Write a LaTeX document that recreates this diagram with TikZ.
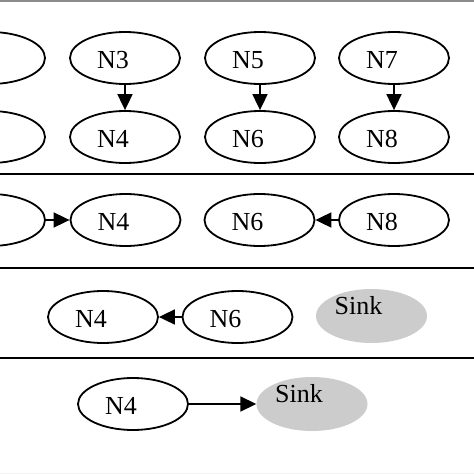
\documentclass[tikz,border=0pt]{standalone}
\usepackage{fontspec}
\setmainfont{Liberation Serif}
\usetikzlibrary{shapes.geometric,arrows.meta}

\tikzset{
  sensor/.style={ellipse, draw=black, line width=1.8pt, minimum width=110pt, minimum height=52pt, inner sep=0pt},
  sink/.style={ellipse, fill=black!20, minimum width=111pt, minimum height=54pt, inner sep=0pt},
  txt/.style={font=\fontsize{26}{30}\selectfont, xshift=-12pt, yshift=-2pt},
  sinktxt/.style={font=\fontsize{26}{30}\selectfont, xshift=-13pt, yshift=10pt},
  arr/.style={line width=1.8pt, -{Triangle[length=16pt,width=15pt]}},
  sep/.style={line width=2pt}
}

\begin{document}
\begin{tikzpicture}[x=1pt,y=-1pt]

\clip (0,0) rectangle (474,474);
\fill[white] (0,0) rectangle (474,474);

% round 1
\node[sensor] (a1) at (-10,58) {};
\node[sensor,label={[txt]center:N3}] (a3) at (125,58) {};
\node[sensor,label={[txt]center:N5}] (a5) at (260,58) {};
\node[sensor,label={[txt]center:N7}] (a7) at (394,58) {};
\node[sensor] (a2) at (-10,137) {};
\node[sensor,label={[txt]center:N4}] (a4) at (125,137) {};
\node[sensor,label={[txt]center:N6}] (a6) at (260,137) {};
\node[sensor,label={[txt]center:N8}] (a8) at (394,137) {};

\draw[arr] (a3) -- (a4);
\draw[arr] (a5) -- (a6);
\draw[arr] (a7) -- (a8);

% round 2
\node[sensor] (b2) at (-10,220) {};
\node[sensor,label={[txt]center:N4}] (b4) at (125.5,220) {};
\node[sensor,label={[txt]center:N6}] (b6) at (259.5,220) {};
\node[sensor,label={[txt]center:N8}] (b8) at (394,220) {};

\draw[arr] (b2) -- (b4);
\draw[arr] (b8) -- (b6);

% round 3
\node[sensor,label={[txt]center:N4}] (c4) at (103,317) {};
\node[sensor,label={[txt]center:N6}] (c6) at (237.5,317) {};
\node[sink,label={[sinktxt]center:Sink}] (cs) at (371.5,316) {};

\draw[arr] (c6) -- (c4);

% round 4
\node[sensor,label={[txt]center:N4}] (d4) at (133,404) {};
\node[sink,label={[sinktxt]center:Sink}] (ds) at (312,404) {};

\draw[arr] (d4) -- (ds);

% separators
\draw[sep,black!45] (0,1) -- (474,1);
\draw[sep] (0,173.5) -- (474,173.5);
\draw[sep] (0,268) -- (474,268);
\draw[sep] (0,358) -- (474,358);
\draw[line width=1pt,black!5] (0,473) -- (474,473);

\end{tikzpicture}
\end{document}
